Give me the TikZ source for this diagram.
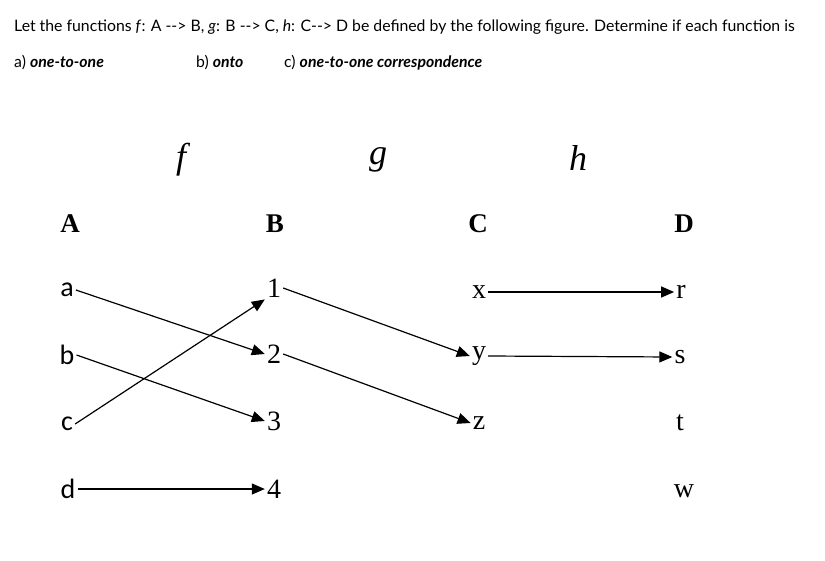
\documentclass[tikz,border=0pt]{standalone}
\usepackage{fontspec}
\setmainfont{Liberation Serif}
\newfontfamily\latofont{Lato}
\newfontfamily\calfont{Carlito}
\usetikzlibrary{arrows.meta}
\begin{document}
\begin{tikzpicture}[x=1pt,y=-1pt,
  hdr/.style={anchor=west,inner sep=0pt,font=\latofont\fontsize{15.8}{18}\selectfont},
  fn/.style={font=\itshape\fontsize{36}{40}\selectfont},
  set/.style={font=\bfseries\fontsize{27}{30}\selectfont},
  sl/.style={inner sep=2pt,font=\calfont\fontsize{28}{32}\selectfont},
  el/.style={inner sep=2pt,font=\fontsize{28}{32}\selectfont},
  arr/.style={-{Triangle[length=13pt,width=11pt]},line width=1.2pt}]
\useasboundingbox (0,0) rectangle (825,560);
\node[hdr] (t1) at (14,27) {Let the functions \textit{f}: A --> B, \textit{g}: B --> C, \textit{h}: C--> D be defined by the following figure. Determine if each function is};
\node[hdr] (t2) at (14,63) {a) \textbf{\textit{one-to-one}}};
\node[hdr] (t3) at (196,63) {b) \textbf{\textit{onto}}};
\node[hdr] (t4) at (284,63) {c) \textbf{\textit{one-to-one correspondence}}};
\node[fn] (f) at (181,160) {f};
\node[fn] (g) at (378,160) {g};
\node[fn] (h) at (578,158) {h};
\node[set] (A) at (70,224) {A};
\node[set] (B) at (275,224) {B};
\node[set] (C) at (478,224) {C};
\node[set] (D) at (684,224) {D};
\node[sl] (a) at (67,290) {a};
\node[sl] (b) at (67,355) {b};
\node[sl] (c) at (67,424) {c};
\node[sl] (d) at (68,489) {d};
\node[el] (n1) at (274,288) {1};
\node[el] (n2) at (274,354) {2};
\node[el] (n3) at (274,421) {3};
\node[el] (n4) at (274,489) {4};
\node[el] (x) at (479,292) {x};
\node[el] (y) at (479,356) {y};
\node[el] (z) at (479,423) {z};
\node[el] (r) at (681,292) {r};
\node[el] (s) at (680,357) {s};
\node[el] (t) at (680,423) {t};
\node[el] (w) at (684,491) {w};
\draw[arr] (a.east) -- (n2.west);
\draw[arr] (b.east) -- (n3.west);
\draw[arr] (c.east) -- (n1.south west);
\draw[arr] (d.east) -- (n4.west);
\draw[arr] (n1.east) -- (y.west);
\draw[arr] (n2.east) -- (z.west);
\draw[arr] (x.east) -- (r.west);
\draw[arr] (y.east) -- (s.west);
\end{tikzpicture}
\end{document}
